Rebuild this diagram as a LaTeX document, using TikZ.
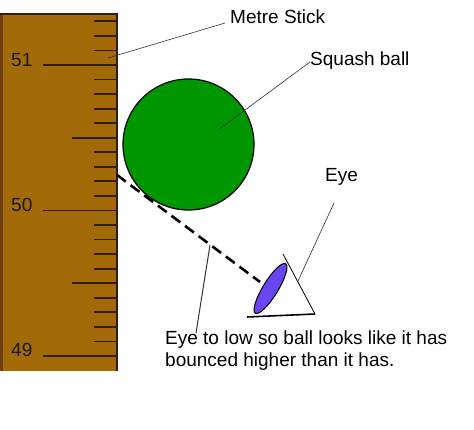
\documentclass[tikz,border=0pt]{standalone}
\usepackage{fontspec}
\setmainfont{Liberation Sans}
\usetikzlibrary{shapes.geometric}
\definecolor{rulerfill}{RGB}{163,106,10}
\definecolor{rulerdark}{RGB}{110,65,10}
\definecolor{rulerline}{RGB}{45,30,15}
\definecolor{ballgreen}{RGB}{0,150,0}
\definecolor{eyeblue}{RGB}{105,70,240}
\begin{document}
\begin{tikzpicture}[x=1pt,y=-1pt,
  tick/.style={line width=1.8pt,draw=rulerline},
  leader/.style={draw=black!80,line width=0.6pt},
  lbl/.style={font=\fontsize{19}{22}\selectfont,inner sep=0pt,anchor=west,text=black},
  num/.style={font=\fontsize{19}{22}\selectfont,inner sep=0pt,anchor=west,text=black!90}]
\useasboundingbox[fill=white] (0,0) rectangle (474,430);
% ruler
\fill[rulerfill] (0,14) rectangle (117,371);
\fill[rulerdark] (0,14) rectangle (3,371);
\draw[rulerline,line width=1.4pt] (0,14) -- (117,14) -- (117,371);
% ticks
\foreach \i in {0,...,23}{
  \pgfmathsetmacro{\yy}{356-\i*14.55}
  \pgfmathtruncatemacro{\m}{mod(\i,10)}
  \pgfmathtruncatemacro{\h}{mod(\i,5)}
  \ifnum\m=0
    \draw[tick] (43,\yy) -- (117,\yy);
  \else\ifnum\h=0
    \draw[tick] (72,\yy) -- (117,\yy);
  \else
    \draw[tick] (94,\yy) -- (117,\yy);
  \fi\fi
}
\node[num] (n51) at (11,60) {51};
\node[num] (n50) at (11,205) {50};
\node[num] (n49) at (11,350) {49};
% ball
\node[circle,draw=black,line width=1.2pt,fill=ballgreen,minimum size=131pt,inner sep=0pt] (ball) at (188.5,144.5) {};
% eye
\coordinate (tritop) at (283,254);
\coordinate (triright) at (315,314);
\coordinate (triLeft) at (247,317);
\draw[black,line width=0.8pt] (tritop) -- (triright);
\draw[black,line width=1.6pt] (triLeft) -- (triright);
\node[ellipse,draw=black,line width=1pt,fill=eyeblue,minimum width=58pt,minimum height=15pt,inner sep=0pt,rotate=58.5] (eye) at (270.5,288.5) {};
% sight line
\coordinate (sightA) at (117,175);
\coordinate (sightB) at (260,282);
\coordinate (sightM) at (210,245);
\draw[black,line width=2.6pt,dash pattern=on 11pt off 6pt] (sightA) -- (sightB);
% labels
\node[lbl] (lms) at (230,17) {Metre Stick};
\node[lbl] (lsb) at (310,61) {Squash ball};
\node[lbl] (leye) at (325,177) {Eye};
\node[lbl,align=left,anchor=north west] (lnote) at (165,331) {Eye to low so ball looks like it has\\bounced higher than it has.};
\coordinate (msEnd) at (108,58);
\coordinate (sbEnd) at (218,130);
\coordinate (eyeEnd) at (298,281);
\coordinate (noteEnd) at (196,333);
\coordinate (msStart) at (225,23);
\coordinate (sbStart) at (310,62);
\coordinate (eyeStart) at (334,203);
\draw[leader] (msStart) -- (msEnd);
\draw[leader] (sbStart) -- (sbEnd);
\draw[leader] (eyeStart) -- (eyeEnd);
\draw[leader,line width=1pt] (sightM) -- (noteEnd);
\end{tikzpicture}
\end{document}
